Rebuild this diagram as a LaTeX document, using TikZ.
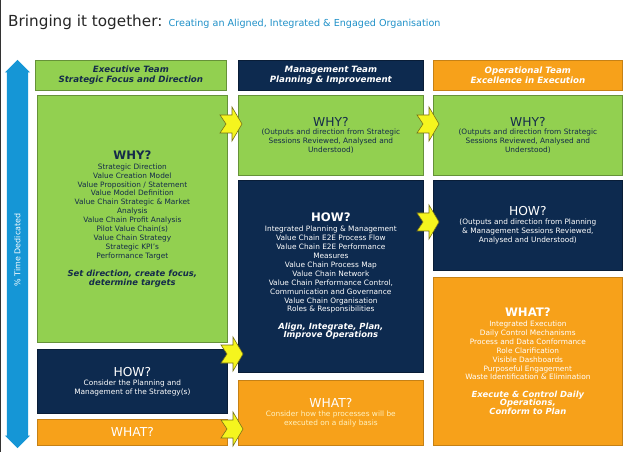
\documentclass[tikz,border=0pt]{standalone}
\usepackage{fontspec}
\setmainfont{DejaVu Sans}
\usetikzlibrary{shapes.arrows}
\definecolor{cgreen}{HTML}{92D050}
\definecolor{cnavy}{HTML}{0D2A4F}
\definecolor{corange}{HTML}{F7A11A}
\definecolor{cyel}{HTML}{F5F51E}
\definecolor{cblue}{HTML}{1596D6}
\definecolor{ctxt}{HTML}{142B4A}
\definecolor{csub}{HTML}{1E90C8}
\definecolor{ccream}{HTML}{FFF2C0}
\tikzset{
  box/.style={anchor=north west, inner sep=2pt, align=center, draw=white, line width=0.6pt,
    font=\fontsize{6.3}{7.6}\selectfont},
  g/.style={box, fill=cgreen, text=ctxt, draw=cgreen!70!black},
  n/.style={box, fill=cnavy, text=white, draw=cnavy!70!black},
  o/.style={box, fill=corange, text=white, draw=corange!80!black},
  hdr/.style={font=\fontsize{7.4}{9}\selectfont\bfseries\itshape},
  yarr/.style={fill=cyel, draw=olive!80!black, line width=0.5pt},
}
\newcommand\mybig[1]{{\fontsize{10.5}{13}\selectfont #1}}
\newcommand\mybbig[1]{{\fontsize{10}{13}\selectfont\bfseries #1}}
\newcommand\mytag[1]{{\fontsize{7.2}{8.6}\selectfont\bfseries\itshape #1}}
\begin{document}
\begin{tikzpicture}[x=0.03cm,y=-0.03cm]
\useasboundingbox (0,0) rectangle (638,452);
\fill[white] (0,0) rectangle (638,452);
\draw[black!80, line width=0.8pt] (0.5,0) -- (0.5,452);
\node[anchor=west, inner sep=0, font=\fontsize{13}{15}\selectfont, text=black!85] (title) at (8,22) {Bringing it together:};
\node[anchor=base west, inner sep=0, font=\fontsize{8.2}{10}\selectfont, text=csub] (sub) at ([xshift=5pt]title.base east) {Creating an Aligned, Integrated \& Engaged Organisation};
% blue double arrow
\node[double arrow, shape border rotate=90, fill=cblue, minimum width=0.75cm, minimum height=388*0.03cm, double arrow head extend=0.5pt, inner sep=2.5pt] (tarr) at (17.5,254) {};
\node[rotate=90, text=white, font=\fontsize{6.8}{8}\selectfont] (tlab) at (17.5,250) {\% Time Dedicated};
% headers
\node[g, hdr, minimum width=5.73cm, minimum height=0.9cm] (h1) at (35,60) {Executive Team\\Strategic Focus and Direction};
\node[n, hdr, minimum width=5.55cm, minimum height=0.9cm] (h2) at (238,60) {Management Team\\Planning \& Improvement};
\node[o, hdr, minimum width=5.67cm, minimum height=0.9cm] (h3) at (433,60) {Operational Team\\Excellence in Execution};
% column 1
\node[g, minimum width=5.7cm, minimum height=7.41cm] (why1) at (37,95) {\mybbig{WHY?}\\[1pt]Strategic Direction\\Value Creation Model\\Value Proposition / Statement\\Value Model Definition\\Value Chain Strategic \& Market\\Analysis\\Value Chain Profit Analysis\\Pilot Value Chain(s)\\Value Chain Strategy\\Strategic KPI's\\Performance Target\\[8pt]\mytag{Set direction, create focus,}\\\mytag{determine targets}};
\node[n, minimum width=5.7cm, minimum height=1.92cm] (how1) at (37,349) {\mybig{HOW?}\\Consider the Planning and\\Management of the Strategy(s)};
\node[o, minimum width=5.7cm, minimum height=0.78cm] (what1) at (37,419) {\mybig{WHAT?}};
% column 2
\node[g, minimum width=5.55cm, minimum height=2.4cm] (why2) at (238,95) {\mybig{WHY?}\\(Outputs and direction from Strategic\\Sessions Reviewed, Analysed and\\Understood)};
\node[n, minimum width=5.55cm, minimum height=5.76cm] (how2) at (238,180) {\mybbig{HOW?}\\[1pt]Integrated Planning \& Management\\Value Chain E2E Process Flow\\Value Chain E2E Performance\\Measures\\Value Chain Process Map\\Value Chain Network\\Value Chain Performance Control,\\Communication and Governance\\Value Chain Organisation\\Roles \& Responsibilities\\[7pt]\mytag{Align, Integrate, Plan,}\\\mytag{Improve Operations}};
\node[o, minimum width=5.55cm, minimum height=1.95cm] (what2) at (238,380) {\mybig{WHAT?}\\\color{ccream}Consider how the processes will be\\\color{ccream}executed on a daily basis};
% column 3
\node[g, minimum width=5.67cm, minimum height=2.4cm] (why3) at (433,95) {\mybig{WHY?}\\(Outputs and direction from Strategic\\Sessions Reviewed, Analysed and\\Understood)};
\node[n, minimum width=5.67cm, minimum height=2.7cm] (how3) at (433,180) {\mybig{HOW?}\\(Outputs and direction from Planning\\\& Management Sessions Reviewed,\\Analysed and Understood)};
\node[o, minimum width=5.67cm, minimum height=5.04cm] (what3) at (433,277) {\mybbig{WHAT?}\\[1pt]Integrated Execution\\Daily Control Mechanisms\\Process and Data Conformance\\Role Clarification\\Visible Dashboards\\Purposeful Engagement\\Waste Identification \& Elimination\\[7pt]\mytag{Execute \& Control Daily}\\\mytag{Operations,}\\\mytag{Conform to Plan}};
% yellow chevrons
\foreach \cx/\cy in {231/124, 428/124, 428/222, 232/354, 232/429}{
  \draw[yarr, shift={(\cx,\cy)}] (-11,-9) -- (1,-9) -- (1,-17) -- (11,0) -- (1,17) -- (1,9) -- (-11,9) -- (-5,0) -- cycle;
}
\end{tikzpicture}
\end{document}
